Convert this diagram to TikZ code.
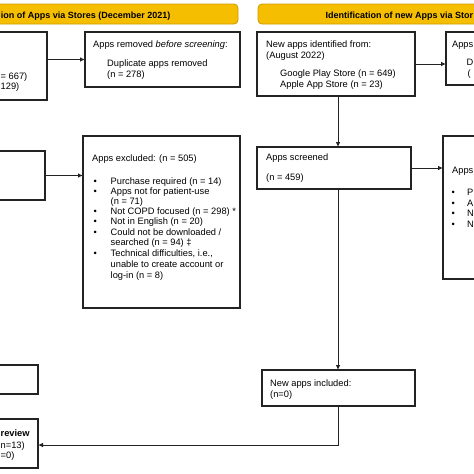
\documentclass[tikz,border=0pt]{standalone}
\usepackage{fontspec}
\setmainfont{Liberation Sans}
\usetikzlibrary{arrows.meta}
\definecolor{hdr}{RGB}{245,190,0}
\definecolor{hdrline}{RGB}{205,155,0}
\definecolor{ln}{RGB}{35,35,35}
\newcommand{\fsz}{\fontsize{9.3}{10.5}\selectfont}
\newcommand{\hfsz}{\fontsize{9.0}{10.5}\selectfont\bfseries}
\begin{document}
\begin{tikzpicture}[x=1pt,y=-1pt,
  box/.style={draw=ln,line width=1.2pt,inner sep=0pt,outer sep=0pt,anchor=north west},
  finalbox/.style={box,line width=2.3pt},
  hdrbox/.style={draw=hdrline,fill=hdr,line width=0.8pt,rounded corners=4pt},
  txt/.style={anchor=base west,inner sep=0pt,font=\fsz},
  txte/.style={anchor=base east,inner sep=0pt,font=\fsz},
  conn/.style={draw=ln,line width=0.9pt},
  arr/.style={conn,-{Latex[length=5pt,width=4.6pt]}}
]
\useasboundingbox (0,0) rectangle (474,474);
\clip (0,0) rectangle (474,474);

% headers
\draw[hdrbox] (-120,4) rectangle (238,24);
\draw[hdrbox] (258,4) rectangle (600,24);
\node[txt,font=\hfsz] (h21) at (0.6,18.2) {ion of Apps via Stores (December 2021)};
\node[txte,font=\hfsz] (h22) at (473.4,18.2) {Identification of new Apps via Stor};

% boxes
\node[box,minimum width=167pt,minimum height=68pt] (src21) at (-120,32) {};
\node[box,minimum width=155pt,minimum height=55pt] (rem21) at (85,32) {};
\node[box,minimum width=158pt,minimum height=64pt] (new22) at (257,32) {};
\node[box,minimum width=100pt,minimum height=53pt] (rem22) at (446,32) {};
\node[box,minimum width=165pt,minimum height=49pt] (scr21) at (-120,151) {};
\node[box,minimum width=157pt,minimum height=172pt] (exc21) at (83,136) {};
\node[box,minimum width=154pt,minimum height=42pt] (scr22) at (257,147) {};
\node[box,minimum width=100pt,minimum height=143pt] (exc22) at (443,136) {};
\node[box,minimum width=158pt,minimum height=29pt] (inc21) at (-120,365) {};
\node[box,minimum width=153pt,minimum height=36pt] (inc22) at (262,370) {};
\node[finalbox,minimum width=158pt,minimum height=49pt] (total) at (-120,419) {};

% texts
\node[txt] (s1) at (0.5,79.3) {= 667)};
\node[txt] (s2) at (0.5,89.3) {129)};

\node[txt] (r1) at (93,47.3) {Apps removed \textit{before screening}:};
\node[txt] (r2) at (107,66.3) {Duplicate apps removed};
\node[txt] (r3) at (107,77.3) {(n = 278)};

\node[txt] (n1) at (266,47.3) {New apps identified from:};
\node[txt] (n2) at (266,58) {(August 2022)};
\node[txt] (n3) at (280,76.6) {Google Play Store (n = 649)};
\node[txt] (n4) at (280,87.3) {Apple App Store (n = 23)};

\node[txte] (q1) at (473.5,47.3) {Apps};
\node[txt] (q2) at (466.5,65.3) {D};
\node[txt] (q3) at (467.5,76.3) {(};

\node[txt] (c1) at (266,160) {Apps screened};
\node[txt] (c2) at (266,180) {(n = 459)};

\node[txt] (x0) at (452,173.3) {Apps};
\foreach \yy/\tt [count=\i] in {195/P,206/A,216.6/N,227.6/N}{
  \node[txt] (xb\i) at (451.5,\yy) {•};
  \node[txt] (xt\i) at (467,\yy) {\tt};
}

\node[txt] (e0) at (92,161.3) {Apps excluded: (n = 505)};
\foreach \yy/\tt [count=\i] in {
  184/{Purchase required (n = 14)},
  194/{Apps not for patient-use},
  204.3/{(n = 71)},
  214/{Not COPD focused (n = 298) *},
  224.5/{Not in English (n = 20)},
  235/{Could not be downloaded /},
  245.6/{searched (n = 94) ‡},
  256.6/{Technical difficulties, i.e.,},
  267.3/{unable to create account or},
  278.3/{log-in (n = 8)}}{
  \node[txt] (et\i) at (110.5,\yy) {\tt};
}
\foreach \yy [count=\i] in {184,194,214,224.5,235,256.6}{
  \node[txt] (eb\i) at (93.5,\yy) {•};
}

\node[txt] (i1) at (270,386.6) {New apps included:};
\node[txt] (i2) at (270,397.3) {(n=0)};

\node[txt,font=\fsz\bfseries] (t1) at (0.5,436) {review};
\node[txt] (t2) at (0.5,448) {n=13)};
\node[txt] (t3) at (0.5,458.3) {=0)};

% connectors
\coordinate (vx) at (338,0);
\draw[arr] (src21.east |- rem21.west) -- (rem21.west);
\draw[arr] (scr21.east) -- (scr21.east -| exc21.west);
\draw[arr] (new22.east) -- (new22.east -| rem22.west);
\draw[arr] (vx |- new22.south) -- (vx |- scr22.north);
\draw[arr] (scr22.east) -- (scr22.east -| exc22.west);
\draw[arr] (vx |- scr22.south) -- (vx |- inc22.north);
\draw[arr] (vx |- inc22.south) |- ([yshift=-1.5pt]total.east);
\end{tikzpicture}
\end{document}
